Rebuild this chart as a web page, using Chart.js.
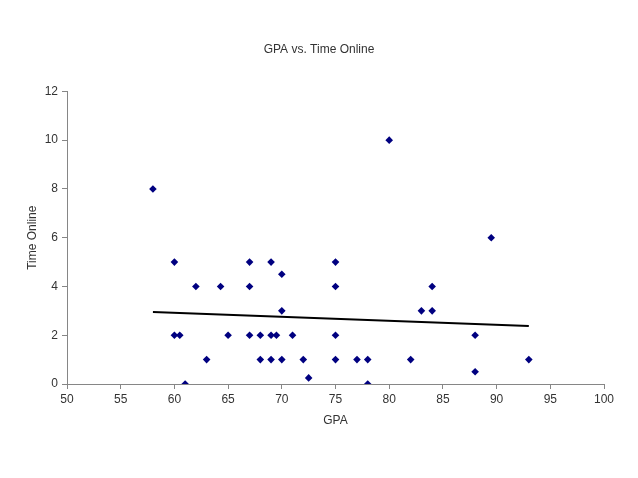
<!DOCTYPE html>
<html>
<head>
<meta charset="utf-8">
<script src="https://cdn.jsdelivr.net/npm/chart.js@4.4.1/dist/chart.umd.min.js"></script>
<style>
  html, body { margin: 0; padding: 0; background: #fff; }
  #wrap { width: 638px; height: 478px; }
</style>
</head>
<body>
<div id="wrap"><canvas id="gpaChart" width="638" height="478"></canvas></div>
<script>
// GPA and hours online
const gpa = [58, 60, 62, 64.3, 60, 60.5, 65, 63, 61, 67, 69, 70, 67, 75, 75, 70, 83, 80,
  67, 68, 69, 69.5, 71, 75, 68, 69, 70, 72, 75, 77, 78, 82, 72.5, 78, 89.5, 84, 84, 88, 93, 88];
const timeOnline = [8, 5, 4, 4, 2, 2, 2, 1, 0, 5, 5, 4.5, 4, 5, 4, 3, 3, 10,
  2, 2, 2, 2, 2, 2, 1, 1, 1, 1, 1, 1, 1, 1, 0.25, 0, 6, 4, 3, 2, 1, 0.5];

// trend line end points
const trendX = [58, 93];
const trendY = [2.95, 2.38];

const xTicks = [50, 55, 60, 65, 70, 75, 80, 85, 90, 95, 100];
const yTicks = [0, 2, 4, 6, 8, 10, 12];

const axisColor = '#868686';
const textColor = '#333333';
const font = { family: 'Liberation Sans, Arial, sans-serif', size: 12, weight: 'normal' };

const points = gpa.map((x, i) => ({ x: x, y: timeOnline[i] }));
const trend = trendX.map((x, i) => ({ x: x, y: trendY[i] }));

new Chart(document.getElementById('gpaChart'), {
  type: 'scatter',
  data: {
    datasets: [
      {
        label: 'Time Online',
        data: points,
        pointStyle: 'rectRot',
        pointRadius: 3.8,
        backgroundColor: '#000080',
        borderColor: '#000080',
        borderWidth: 0
      },
      {
        label: 'Trend',
        type: 'line',
        data: trend,
        showLine: true,
        borderColor: '#000000',
        borderWidth: 2,
        pointRadius: 0,
        fill: false
      }
    ]
  },
  options: {
    responsive: false,
    animation: false,
    layout: { padding: 0 },
    plugins: {
      legend: { display: false },
      tooltip: { enabled: false },
      title: {
        display: true,
        text: 'GPA vs. Time Online',
        color: textColor,
        font: font,
        padding: { top: 42, bottom: 35 }
      }
    },
    scales: {
      x: {
        type: 'linear',
        min: 50,
        max: 100,
        afterBuildTicks: scale => { scale.ticks = xTicks.map(v => ({ value: v })); },
        afterFit: scale => { scale.height = 94; },
        grid: { drawOnChartArea: false, drawTicks: true, tickLength: 5, color: axisColor },
        border: { display: true, color: axisColor, width: 1 },
        ticks: { color: textColor, font: font, padding: 3, maxRotation: 0 },
        title: { display: true, text: 'GPA', color: textColor, font: font, padding: { top: 0, bottom: 50 } }
      },
      y: {
        type: 'linear',
        min: 0,
        max: 12,
        afterBuildTicks: scale => { scale.ticks = yTicks.map(v => ({ value: v })); },
        afterFit: scale => { scale.width = 67; },
        grid: { drawOnChartArea: false, drawTicks: true, tickLength: 5, color: axisColor },
        border: { display: true, color: axisColor, width: 1 },
        ticks: { color: textColor, font: font, padding: 4 },
        title: { display: true, text: 'Time Online', color: textColor, font: font, padding: { top: 25, bottom: 0 } }
      },
      // empty right-hand spacer so the plot ends where the reference does
      spacer: {
        type: 'linear',
        position: 'right',
        min: 0,
        max: 12,
        afterFit: scale => { scale.width = 34; },
        grid: { display: false },
        border: { display: false },
        ticks: { display: false }
      }
    }
  }
});
</script>
</body>
</html>
